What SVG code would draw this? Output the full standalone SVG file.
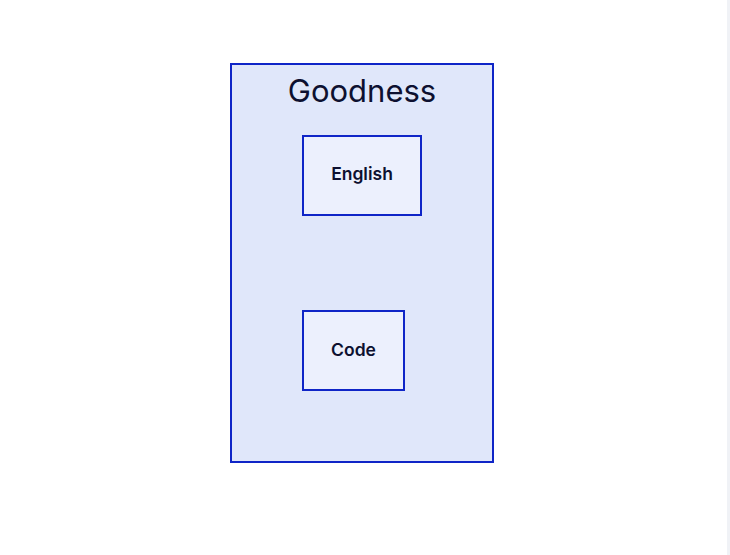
<svg xmlns="http://www.w3.org/2000/svg" width="730" height="555" viewBox="0 0 730 555">
<style>
.box{stroke:#0f25c7;stroke-width:2}
.outer{fill:#e0e7fa}
.inner{fill:#ecf0fd}
.title{font-family:Inter,Lato,"Noto Sans",sans-serif;font-size:31px;fill:#0d1030;text-anchor:middle}
.lbl{font-family:Inter,Lato,"Noto Sans",sans-serif;font-size:17.5px;font-weight:600;fill:#0d1030;text-anchor:middle}
</style>
<rect x="0" y="0" width="730" height="555" fill="#ffffff"/>
<rect x="727" y="0" width="3" height="555" fill="#f0f2f6"/>
<g id="goodness">
<rect class="box outer" x="231" y="64" width="262" height="398"/>
<text class="title" x="362" y="102">Goodness</text>
</g>
<g id="english">
<rect class="box inner" x="303" y="136" width="118" height="79"/>
<text class="lbl" x="362" y="180">English</text>
</g>
<g id="code">
<rect class="box inner" x="303" y="311" width="101" height="79"/>
<text class="lbl" x="353.5" y="355.5">Code</text>
</g>
<g id="connectors"></g>
</svg>
